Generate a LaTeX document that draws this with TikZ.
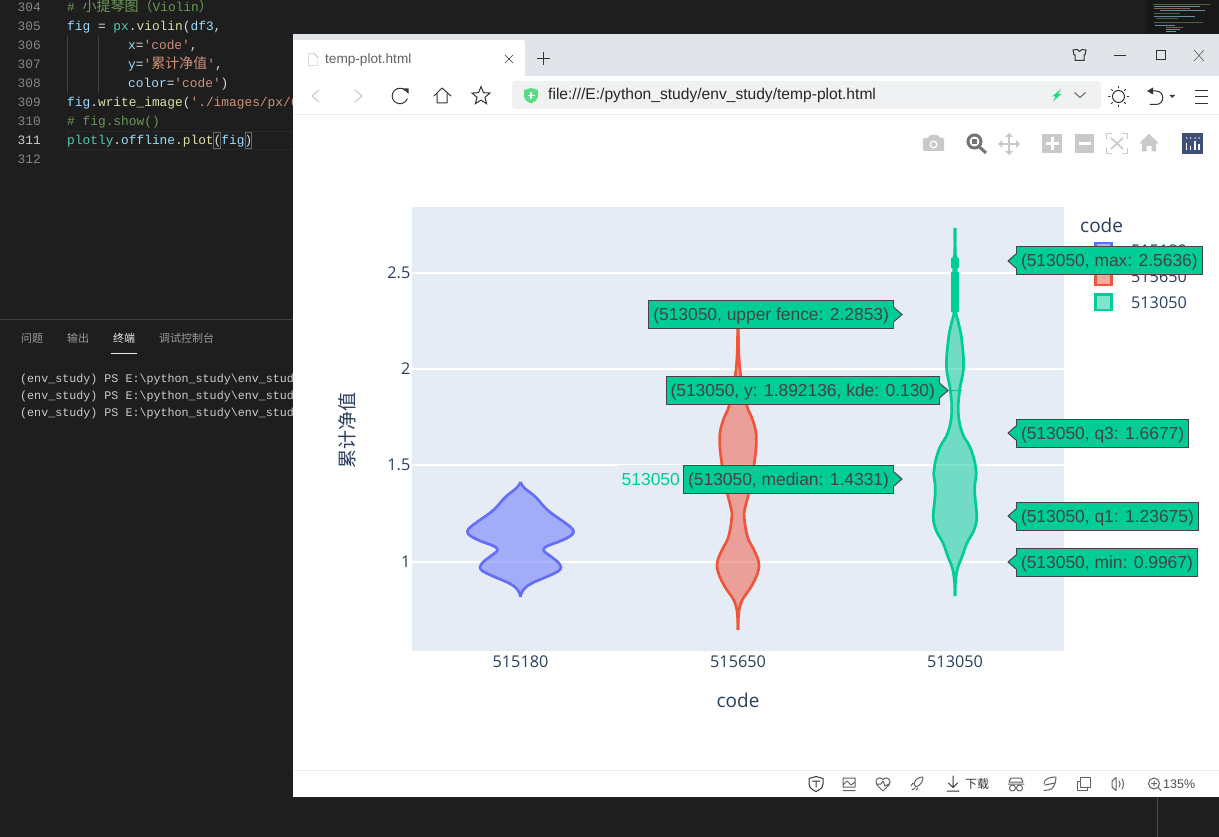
\documentclass[tikz,border=0pt]{standalone}
\usepackage{fontspec}
\setmainfont{Liberation Sans}
\setmonofont{Liberation Mono}
\newfontfamily\plotfont{Open Sans}
\newfontfamily\cjkfont{Noto Sans CJK SC}
\usetikzlibrary{shapes.geometric}

\definecolor{editorbg}{HTML}{1E1E1E}
\definecolor{mapbg}{HTML}{181818}
\definecolor{chromebg}{HTML}{E1E4E9}
\definecolor{addressbg}{HTML}{EFF1F3}
\definecolor{plotbg}{HTML}{E5ECF6}
\definecolor{axisink}{HTML}{2A3F5F}
\definecolor{blueviolin}{HTML}{636EFA}
\definecolor{redviolin}{HTML}{EF553B}
\definecolor{greenviolin}{HTML}{00CC96}
\definecolor{hoverink}{HTML}{444444}
\definecolor{iconlight}{HTML}{C9C9C9}
\definecolor{iconink}{HTML}{333333}
\definecolor{logoblue}{HTML}{3F4F75}
\definecolor{shieldgreen}{HTML}{5ADB85}
\definecolor{boltgreen}{HTML}{22DD80}
\definecolor{cmt}{HTML}{6A9955}
\definecolor{var}{HTML}{9CDCFE}
\definecolor{cls}{HTML}{4EC9B0}
\definecolor{fnc}{HTML}{DCDCAA}
\definecolor{str}{HTML}{CE9178}

\tikzset{
  code/.style={anchor=base west,inner sep=0pt,text=var,font=\ttfamily\fontsize{12.85}{15}\selectfont},
  lineno/.style={anchor=base east,inner sep=0pt,text=black!48,font=\ttfamily\fontsize{12.85}{15}\selectfont},
  term/.style={anchor=base west,inner sep=0pt,text=black!20,font=\ttfamily\fontsize{11.7}{14}\selectfont},
  paneltab/.style={anchor=base west,inner sep=0pt,text=black!40,font=\cjkfont\fontsize{11}{13}\selectfont},
  tick/.style={inner sep=0pt,text=axisink,font=\plotfont\fontsize{16.2}{19}\selectfont},
  axistitle/.style={inner sep=0pt,text=axisink,font=\plotfont\fontsize{19}{23}\selectfont},
  hoverbox/.style={draw=hoverink,line width=1pt,fill=greenviolin,text=hoverink,inner xsep=4.5pt,
    inner ysep=0pt,minimum height=28pt,text height=16pt,text depth=4pt,font=\fontsize{17.4}{21}\selectfont},
  hoverleft/.style={hoverbox,anchor=west},
  hoverright/.style={hoverbox,anchor=east},
  violinline/.style={draw=#1,line width=2.7pt,line join=round},
  legendkey/.style={draw=#1,line width=2.7pt,fill=#1!50!white},
  thinicon/.style={draw=iconink,line width=1pt,line cap=round,line join=round},
  faint/.style={draw=black!22,line width=1pt,line cap=round,line join=round},
  statusicon/.style={draw=black!62,line width=1pt,line cap=round,line join=round},
}

% half of a violin, as half width and y
\newcommand\PROFILEBLUE{(0,482)(4,488)(15,497)(27,510)(42,521)(50,527)(53,531.5)(50,536)(40,541)(27,546)(23,550)(27,554)(35,560)(39,564)(40.5,567)(38,571)(28,576)(10,584)(2,591)(0,597)}
\newcommand\PROFILERED{(0,316)(.5,340)(1,357)(3,377)(8.7,405)(14.7,420)(18.3,437)(16.3,463)(10.7,493)(7,508)(6.3,518)(9.6,537)(16,550)(20.6,562)(19.6,573)(13,587)(6,597)(2,606)(.5,616)(0,630)}
\newcommand\PROFILEGREEN{(0,228)(.2,250)(.6,256)(1.3,258)(1.3,267)(1,270)(1.3,273)(1.3,310)(1,314)(3.5,323)(6.7,340)(8.5,367)(4.7,390)(3.3,413)(7.3,433)(15,447)(20,463)(21.3,473)(19.7,487)(20.3,500)(21.7,517)(19,530)(12,543)(7.3,556)(3,567)(1,577)(.2,587)(0,596)}

\newcommand\VIOLIN[3]{%
  \begin{scope}[transparency group,opacity=.5]
    \foreach \SIDE in {1,-1}
      \fill[#2,shift={({#1-.5*\SIDE},0)},xscale=\SIDE] plot[smooth,tension=.7] coordinates {#3};
  \end{scope}
  \foreach \SIDE in {1,-1}
    \draw[violinline=#2,shift={(#1,0)},xscale=\SIDE] plot[smooth,tension=.7] coordinates {#3};
}
\newcommand\POINTEAST[1]{%
  \fill[greenviolin] (#1.east) ++(-1,-7) -- ++(9,7) -- ++(-9,7) -- cycle;
  \draw[hoverink,line width=1pt] (#1.east) ++(0,-7) -- ++(8,7) -- ++(-8,7);
}
\newcommand\POINTWEST[1]{%
  \fill[greenviolin] (#1.west) ++(1,-7) -- ++(-9,7) -- ++(9,7) -- cycle;
  \draw[hoverink,line width=1pt] (#1.west) ++(0,-7) -- ++(-8,7) -- ++(8,7);
}

\begin{document}
\begin{tikzpicture}[x=1pt,y=-1pt]

\useasboundingbox (0,0) rectangle (1219,837);
\fill[editorbg] (0,0) rectangle (1219,837);

% minimap
\fill[mapbg] (1146,0) rectangle (1219,34);
\foreach \XA/\XB/\YY/\CC in {1153/1210/4/cmt,1154/1200/6/var,1154/1190/8/str,1160/1205/10/var,1154/1180/13/cmt,
  1154/1195/16/var,1156/1178/18/cmt,1154/1203/22/cmt,1155/1175/25/var,1166/1183/27/str,1166/1180/29/var,1166/1176/31/fnc}
  \draw[\CC,line width=.8pt,opacity=.6] (\XA,\YY) -- (\XB,\YY);

% editor
\foreach \N in {304,...,310,312}
  \node[lineno] (ln\N) at (41,{12+19*(\N-304)}) {\N};
\node[lineno,text=black!20] (ln311) at (41,145) {311};

\draw[black!75] (67,36) -- (67,93);
\draw[black!75] (98,36) -- (98,93);
\draw[black!84] (67,131) rectangle (293,149);
\draw[black!60] (213.5,132) rectangle (220,148);
\draw[black!60] (245,132) rectangle (251.5,148);

\node[code,text=cmt] (codeA) at (67,12) {\# {\cjkfont\fontsize{14}{15}\selectfont 小提琴图（}Violin{\cjkfont\fontsize{14}{15}\selectfont ）}};
\node[code] (codeB) at (67,31) {fig \textcolor{black!15}{=} \textcolor{cls}{px}\textcolor{black!15}{.}\textcolor{fnc}{violin}\textcolor{black!15}{(}df3\textcolor{black!15}{,}};
\node[code] (codeC) at (128,50) {x\textcolor{black!15}{=}\textcolor{str}{'code'}\textcolor{black!15}{,}};
\node[code] (codeD) at (128,69) {y\textcolor{black!15}{=}\textcolor{str}{'{\cjkfont\fontsize{14}{15}\selectfont 累计净值}'}\textcolor{black!15}{,}};
\node[code] (codeE) at (128,88) {color\textcolor{black!15}{=}\textcolor{str}{'code'}\textcolor{black!15}{)}};
\node[code] (codeF) at (67,107) {fig\textcolor{black!15}{.}\textcolor{fnc}{write\_image}\textcolor{black!15}{(}\textcolor{str}{'./images/px/6}};
\node[code,text=cmt] (codeG) at (67,126) {\# fig.show()};
\node[code] (codeH) at (67,145) {\textcolor{cls}{plotly}\textcolor{black!15}{.}offline\textcolor{black!15}{.}\textcolor{fnc}{plot}\textcolor{black!15}{(}fig\textcolor{black!15}{)}};

% panel
\draw[black!75] (0,319.5) -- (293,319.5);
\node[paneltab] (tabA) at (21,342) {问题};
\node[paneltab] (tabB) at (67,342) {输出};
\node[paneltab,text=black!8] (tabC) at (113,342) {终端};
\node[paneltab] (tabD) at (159,342) {调试控制台};
\draw[black!8] (111,353.5) -- (137,353.5);
\node[term] (termA) at (20,382) {(env\_study) PS E:\textbackslash python\_study\textbackslash env\_study};
\node[term] (termB) at (20,399) {(env\_study) PS E:\textbackslash python\_study\textbackslash env\_study};
\node[term] (termC) at (20,416) {(env\_study) PS E:\textbackslash python\_study\textbackslash env\_study};

\draw[black!70] (1157.5,797) -- (1157.5,837);

% browser
\fill[white] (293,34) rectangle (1219,797);
\fill[chromebg] (293,34) rectangle (1219,76);
\fill[white] (293,40) [rounded corners=2pt] -- (525,40) -- (525,76) [sharp corners] -- (293,76) -- cycle;
\fill[black!7] (293,114) rectangle (1219,115);
\fill[black!7] (293,770) rectangle (1219,771);
\fill[addressbg,rounded corners=3pt] (512,81) rectangle (1101,109);

\draw[black!38] (316,65.5) -- (308.5,65.5) -- (308.5,53.5) -- (314,53.5) -- (318,57.5) -- (318,65.5) -- cycle;
\node[anchor=base west,inner sep=0pt,text=black!62,font=\fontsize{13.6}{15}\selectfont] (tabtitle) at (325,63.5) {temp-plot.html};
\draw[iconink] (505,55) -- (513,63) (513,55) -- (505,63);
\draw[iconink] (543,52) -- (543,65) (536.5,58.5) -- (549.5,58.5);

\draw[faint] (319,90) -- (312,96) -- (319,102);
\draw[faint] (355,90) -- (362,96) -- (355,102);
\draw[thinicon] (405.5,90.5) arc (-45:-340:7.8);
\fill[iconink] (403,88.5) -- (408.5,88.5) -- (408.5,94) -- cycle;
\draw[thinicon] (434,96) -- (442,88) -- (451,96) (437,94) -- (437,103) -- (447,103) -- (447,94);
\node[draw=iconink,line width=1pt,star,star points=5,star point ratio=2.3,minimum size=19pt,inner sep=0pt] (iconstar) at (481,96) {};

\fill[shieldgreen] (524,90) -- (531,88) -- (538,90) -- (538,96) .. controls (538,100) and (534,102) .. (531,103.5) .. controls (528,102) and (524,100) .. (524,96) -- cycle;
\draw[white,line width=1.8pt] (531,92) -- (531,99) (527.5,95.5) -- (534.5,95.5);
\node[anchor=base west,inner sep=0pt,text=black!85,font=\fontsize{15.6}{18}\selectfont] (address) at (548,100) {file:///E:/python\_study/env\_study/temp-plot.html};
\fill[boltgreen] (1061,89) -- (1052,96.5) -- (1055.5,96.5) -- (1053,101.5) -- (1061.5,94) -- (1058,94) -- cycle;
\draw[black!60,line width=1pt] (1074.5,92.5) -- (1080,97.5) -- (1085.5,92.5);

\draw[thinicon,line join=miter] (1073,50) -- (1077,49.5) .. controls (1078,52) and (1081,52) .. (1082,49.5) -- (1086,50) -- (1085,55) -- (1084,55) -- (1084,60.5) -- (1075,60.5) -- (1075,55) -- (1074,55) -- cycle;
\draw[iconink] (1114,55) -- (1126,55);
\draw[iconink] (1156.5,50.5) rectangle (1165.5,59.5);
\draw[iconink] (1194,50) -- (1204,61) (1204,50) -- (1194,61);

\draw[thinicon] (1118.5,96.5) circle (6);
\foreach \A in {0,45,...,315}
  \draw[thinicon] (1118.5,96.5) ++(\A:-8.5) -- ++(\A:-1.5);
\draw[thinicon] (1151,91) -- (1156,91) .. controls (1165,91) and (1165,104.5) .. (1156,104.5) -- (1150,104.5);
\fill[iconink] (1147,91) -- (1153,87.5) -- (1153,94.5) -- cycle;
\fill[iconink] (1169.5,95) -- (1175,95) -- (1172.25,98) -- cycle;
\draw[iconink] (1195,90) -- (1208,90) (1195,96.5) -- (1208,96.5) (1195,103) -- (1208,103);

% modebar
\fill[iconlight,rounded corners=1pt] (923,138) -- (928,138) -- (930,135) -- (938,135) -- (940,138) -- (944,138) -- (944,151) -- (923,151) -- cycle;
\fill[white] (933.5,144.5) circle (4);
\fill[iconlight] (933.5,144.5) circle (2.5);
\draw[black!55,line width=3pt] (974.5,141.5) circle (6.5);
\fill[black!55] (972,139) rectangle (977,144);
\draw[black!55,line width=3pt] (979.5,147) -- (986,153);
\draw[iconlight,line width=2pt] (1000,144) -- (1018,144) (1009,135) -- (1009,153);
\fill[iconlight] (1009,133) -- (1013,137) -- (1005,137) -- cycle (1009,155) -- (1013,151) -- (1005,151) -- cycle
  (998,144) -- (1002,140) -- (1002,148) -- cycle (1020,144) -- (1016,140) -- (1016,148) -- cycle;
\fill[iconlight] (1042,134) rectangle (1062,153);
\draw[white,line width=3pt] (1052,137) -- (1052,150) (1045.5,143.5) -- (1058.5,143.5);
\fill[iconlight] (1075,134) rectangle (1094,153);
\draw[white,line width=3pt] (1078.5,143.5) -- (1090.5,143.5);
\draw[iconlight,line width=1pt] (1106.5,139) -- (1106.5,133.5) -- (1112,133.5) (1122,133.5) -- (1127.5,133.5) -- (1127.5,139)
  (1127.5,148) -- (1127.5,153.5) -- (1122,153.5) (1112,153.5) -- (1106.5,153.5) -- (1106.5,148);
\draw[iconlight,line width=1.6pt] (1111,138) -- (1123,149) (1123,138) -- (1111,149);
\fill[iconlight] (1149,134) -- (1159,143.5) -- (1156,143.5) -- (1156,151.5) -- (1151.5,151.5) -- (1151.5,146) -- (1146.5,146) -- (1146.5,151.5) -- (1142,151.5) -- (1142,143.5) -- (1139,143.5) -- cycle;
\fill[logoblue] (1182,133) rectangle (1203,154);
\foreach \XX/\YY in {1186.5/143,1190.5/146,1195/141,1199/144}
  \draw[white,line width=1.6pt] (\XX,\YY) -- (\XX,150.5);
\foreach \XX in {1186.5,1190.5,1195,1199}
  \fill[white!65!logoblue] (\XX,138) circle (1);

% plot area
\fill[plotbg] (412,207) rectangle (1064,651);
\foreach \YY in {273,369,465}
  \draw[white,line width=1.35pt] (412,\YY) -- (1064,\YY);
\draw[white,line width=2.7pt] (412,562) -- (1064,562);

\VIOLIN{520.5}{blueviolin}{\PROFILEBLUE}
\VIOLIN{738}{redviolin}{\PROFILERED}
\VIOLIN{955}{greenviolin}{\PROFILEGREEN}
\draw[greenviolin,line width=8pt] (955,258) -- (955,268) (955,272) -- (955,312);
\coordinate (kdeleft) at (948,390);
\coordinate (kderight) at (962,390);
\draw[greenviolin,line width=1pt] (kdeleft) -- (kderight);

\node[tick,anchor=east] (ytickA) at (410.5,273) {2.5};
\node[tick,anchor=east] (ytickB) at (410.5,369) {2};
\node[tick,anchor=east] (ytickC) at (410.5,465) {1.5};
\node[tick,anchor=east] (ytickD) at (410.5,562) {1};
\node[tick] (xtickA) at (520.5,662) {515180};
\node[tick] (xtickB) at (738,662) {515650};
\node[tick] (xtickC) at (955,662) {513050};
\node[axistitle] (xtitle) at (738,700.5) {code};
\node[axistitle,font=\cjkfont\fontsize{19}{23}\selectfont,rotate=90] (ytitle) at (347,430) {累计净值};

% legend
\node[axistitle,anchor=west] (legendtitle) at (1080,225.5) {code};
\draw[legendkey=blueviolin] (1095.5,243) rectangle (1111.5,258);
\draw[legendkey=redviolin] (1095.5,269) rectangle (1111.5,285);
\draw[legendkey=greenviolin] (1095.5,294.5) rectangle (1111.5,310);
\node[tick,anchor=west] (legendA) at (1131,251) {515180};
\node[tick,anchor=west] (legendB) at (1131,277) {515650};
\node[tick,anchor=west] (legendC) at (1131,303) {513050};

% hover labels
\node[hoverright] (hoverfence) at (894,314.5) {(513050, upper fence: 2.2853)};
\POINTEAST{hoverfence}
\node[hoverright] (hoverkde) at (940,390.5) {(513050, y: 1.892136, kde: 0.130)};
\POINTEAST{hoverkde}
\node[fill=plotbg,text=greenviolin,anchor=east,inner xsep=4pt,inner ysep=0pt,minimum height=28pt,text height=16pt,text depth=4pt,font=\fontsize{17.4}{21}\selectfont] (hovername) at (684,479) {513050};
\node[hoverright] (hovermedian) at (894,479) {(513050, median: 1.4331)};
\POINTEAST{hovermedian}
\node[hoverleft] (hovermax) at (1016,261) {(513050, max: 2.5636)};
\POINTWEST{hovermax}
\node[hoverleft] (hoverqa) at (1016,433) {(513050, q3: 1.6677)};
\POINTWEST{hoverqa}
\node[hoverleft] (hoverqb) at (1016,516) {(513050, q1: 1.23675)};
\POINTWEST{hoverqb}
\node[hoverleft] (hovermin) at (1016,562) {(513050, min: 0.9967)};
\POINTWEST{hovermin}

% status bar
\draw[statusicon,draw=iconink] (809,778.5) -- (816,776.5) -- (823,778.5) -- (823,784) .. controls (823,788) and (819,790) .. (816,791.5) .. controls (813,790) and (809,788) .. (809,784) -- cycle (812.5,781) -- (819.5,781) (816,781) -- (816,787);
\draw[statusicon] (843,778) rectangle (855,787) (843,785) -- (847,781) -- (851,785) -- (855,782) (843,790.5) -- (855,790.5);
\draw[statusicon] (883,791) -- (877,785) .. controls (874,781) and (878,775) .. (883,779.5) .. controls (888,775) and (892,781) .. (889,785) -- cycle (877,784) -- (881,784) -- (883,781) -- (885,786) -- (889,784);
\draw[statusicon] (914,784) .. controls (915,779) and (919,777) .. (923,777) .. controls (923,781) and (921,785) .. (916,787) -- cycle (912,790) -- (915,788) (913,783) -- (911,786) (918,788) -- (916,790);
\draw[statusicon,draw=iconink] (953,776) -- (953,787) (948.5,783) -- (953,787.5) -- (957.5,783) (947,791) -- (959,791);
\node[anchor=base west,inner sep=0pt,text=iconink,font=\cjkfont\fontsize{12}{14}\selectfont] (download) at (965,788.5) {下载};
\draw[statusicon] (1011,778) -- (1021,778) -- (1023,782) -- (1009,782) -- cycle (1008,784) -- (1024,784);
\draw[statusicon] (1012.5,788) circle (3) (1019.5,788) circle (3);
\draw[statusicon] (1044,784) .. controls (1044,779) and (1049,777) .. (1056,777) .. controls (1056,784) and (1053,790) .. (1048,790) -- (1044,790.5) (1045,785) -- (1055,783);
\draw[statusicon] (1080,777.5) rectangle (1090,787) (1080,781) -- (1077.5,781) -- (1077.5,790) -- (1087,790) -- (1087,787);
\draw[statusicon] (1112,781) -- (1116,777.5) -- (1116,790.5) -- (1112,787) -- cycle (1119,781) .. controls (1120.5,783) and (1120.5,785) .. (1119,787) (1122,779) .. controls (1124,782) and (1124,786) .. (1122,789);
\draw[statusicon] (1154,783.5) circle (5.5) (1158,787.5) -- (1161,790.5) (1151.5,783.5) -- (1156.5,783.5) (1154,781) -- (1154,786);
\node[anchor=base west,inner sep=0pt,text=black!70,font=\fontsize{12.5}{14}\selectfont] (zoomlevel) at (1163,788.5) {135\%};

\end{tikzpicture}
\end{document}
